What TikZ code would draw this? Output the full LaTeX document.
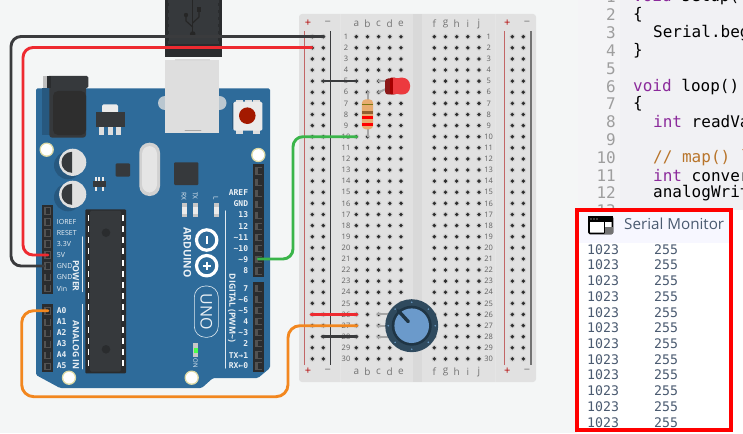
\documentclass[tikz,border=0pt]{standalone}
\usepackage{fontspec}
\setmainfont{Open Sans}
\newfontfamily\codefont{DejaVu Sans Mono}
\newfontfamily\boardfont{DejaVu Sans Mono}
\usepackage{pgf,tikz}
\usetikzlibrary{calc}
\definecolor{pagebg}{HTML}{F4F6F6}
\definecolor{boardblue}{HTML}{2E6B9A}
\definecolor{boardshade}{HTML}{27587F}
\definecolor{partdark}{HTML}{36393C}
\definecolor{socket}{HTML}{2A2C2E}
\definecolor{silver}{HTML}{DEDEDE}
\definecolor{bbgrey}{HTML}{E1E1E1}
\definecolor{wireblack}{HTML}{3A3B3D}
\definecolor{wirered}{HTML}{EE2A30}
\definecolor{wiregreen}{HTML}{3AB54A}
\definecolor{wireorange}{HTML}{F2871F}
\definecolor{codepurple}{HTML}{8B2A9B}
\definecolor{codeorange}{HTML}{B8742A}
\definecolor{monitorink}{HTML}{4A5A70}
\definecolor{gutterbg}{HTML}{F4F4F6}
\definecolor{codebg}{HTML}{F1F1F4}
\definecolor{potbody}{HTML}{2F4A5E}
\definecolor{potring}{HTML}{1F3545}
\definecolor{potknob}{HTML}{6B9ACB}
\definecolor{potdot}{HTML}{6A9AC4}
\definecolor{ledred}{HTML}{EC3A3E}
\tikzset{
  wire/.style={line width=2.9pt,rounded corners=10pt},
  lead/.style={line width=2pt,color=black!35},
  silk/.style={text=white!90!boardblue,inner sep=0pt},
  pinlabel/.style={silk,font=\boardfont\bfseries\fontsize{8}{8}\selectfont},
  powerlabel/.style={silk,font=\fontsize{7}{7}\selectfont,anchor=west},
  sidelabel/.style={silk,rotate=-90,font=\bfseries\fontsize{8.6}{8.6}\selectfont},
  bblabel/.style={text=black!62,inner sep=0pt,font=\fontsize{7.5}{7.5}\selectfont},
  bbletter/.style={text=black!55,inner sep=0pt,font=\fontsize{10}{10}\selectfont},
  codeline/.style={anchor=west,inner sep=0pt,font=\codefont\fontsize{16}{16}\selectfont},
  linenum/.style={anchor=east,inner sep=0pt,text=black!38,font=\codefont\fontsize{16}{16}\selectfont},
  monitortext/.style={anchor=west,inner sep=0pt,text=monitorink,font=\codefont\fontsize{13.2}{13.2}\selectfont},
}
\newcommand{\headerpins}[2]{%
  \foreach \py in {#2}{
    \fill[black!68] ({#1-3.6},{\py-3.6}) rectangle +(7.2,7.2);
    \fill[socket] ({#1-1.2},{\py-3}) rectangle +(4.2,5.6);
  }}
\begin{document}
\begin{tikzpicture}[line cap=round,line join=round,x=1pt,y=-1pt]
\useasboundingbox (0,0) rectangle (743,433);
\begin{scope}
\clip (0,0) rectangle (743,433);
\fill[pagebg] (0,0) rectangle (743,433);
% code panel
\fill[gutterbg] (578,0) rectangle (620,212);
\fill[codebg] (620,0) rectangle (743,212);
\foreach \n/\ly in {1/-3,2/15,3/33,4/51,5/69,6/87,7/104,8/122,9/140,10/158,11/176,12/193,13/211}
  \node[linenum] at (616,\ly) {\n};
\node[codeline] at (633,-3) {\textcolor{codepurple}{void} setup(};
\node[codeline] at (633,15) {\{};
\node[codeline] at (653,33) {Serial.beg};
\node[codeline] at (633,51) {\}};
\node[codeline] at (633,87) {\textcolor{codepurple}{void} loop()};
\node[codeline] at (633,104) {\{};
\node[codeline] at (653,122) {\textcolor{codepurple}{int} readVa};
\node[codeline,text=codeorange] at (653,158) {// map() `};
\node[codeline] at (653,176) {\textcolor{codepurple}{int} conver};
\node[codeline] at (653,193) {analogWrit};
% serial monitor
\fill[white] (577,210) rectangle (743,433);
\fill[black!3!blue!3!white] (577,210) rectangle (731,243);
\fill[white] (588,216) rectangle (613,234);
\fill[black] (588,216) rectangle (613,222);
\draw[black,line width=1.6pt,rounded corners=1pt] (589,217) rectangle (612.5,233.5);
\fill[black!55] (604,227) rectangle (612.5,233.5);
\draw[black,line width=1pt] (604,222) -- (604,233);
\foreach \wx in {591,594,597}
  \fill[white] (\wx,219) circle (0.7pt);
\node[anchor=west,inner sep=0pt,text=monitorink,font=\fontsize{15.2}{15.2}\selectfont] (monitortitle) at (624,224) {Serial Monitor};
\foreach \k in {0,...,11}{
  \pgfmathsetmacro{\ry}{249.3+\k*15.73}
  \node[monitortext] at (587,\ry) {1023};
  \node[monitortext] at (654,\ry) {255};
}
\draw[red,line width=3.6pt,line cap=butt,line join=miter] (577,210) rectangle (731,430);
% breadboard
\fill[bbgrey,rounded corners=3pt] (299,14) rectangle (536,382);
\fill[black!10] (339.6,14) rectangle (340.4,382);
\fill[black!10] (494.6,14) rectangle (495.4,382);
\fill[black!15] (413,14) rectangle (422,382);
\draw[red!60!black!60,line width=1pt,line cap=butt] (304,31) -- (304,365);
\draw[wireblack,line width=1pt,line cap=butt] (330.7,31) -- (330.7,365);
\draw[red!60!black!60,line width=1pt,line cap=butt] (504.3,31) -- (504.3,365);
\draw[black!55,line width=1.6pt,line cap=butt] (531,31) -- (531,365);
\foreach \sy in {23,371}{
  \node[text=red!70!black,inner sep=0pt,font=\fontsize{11}{11}\selectfont] at (308,\sy) {+};
  \node[text=black!55,inner sep=0pt,font=\fontsize{11}{11}\selectfont] at (327.7,\sy) {\textminus};
  \node[text=red!70!black,inner sep=0pt,font=\fontsize{11}{11}\selectfont] at (507.3,\sy) {+};
  \node[text=black!55,inner sep=0pt,font=\fontsize{11}{11}\selectfont] at (527,\sy) {\textminus};
  \foreach \hx/\ltr in {356.3/a,367.5/b,378.6/c,389.8/d,401/e,434.3/f,445.5/g,456.7/h,467.8/i,479/j}
    \node[bbletter] at (\hx,\sy+1) {\ltr};
}
\foreach \r in {1,...,30}{
  \pgfmathsetmacro{\ry}{36.7+(\r-1)*11.11}
  \node[bblabel] at (346,\ry) {\r};
  \node[bblabel] at (488.7,\ry) {\r};
  \foreach \hx in {312.3,323.3,356.3,367.5,378.6,389.8,401,434.3,445.5,456.7,467.8,479,512.3,523.3}{
    \fill[black!18] (\hx,\ry) circle (2.9pt);
    \fill[black!82] (\hx,\ry) circle (1.9pt);
  }
}
% board
\fill[boardblue,rounded corners=1.5pt] (36,88.3) -- (270,88.3) -- (270,368) -- (258,378) -- (213,378) -- (201.7,388) -- (60,388) -- (36,375) -- cycle;
\foreach \hx/\hy in {46.7/149.7,258.3/155,69/377.7,191.7/377.7}{
  \fill[yellow!30!white!85!black] (\hx,\hy) circle (7.2pt);
  \fill[white] (\hx,\hy) circle (5.8pt);
}
% power jack
\fill[boardshade] (41.7,88) rectangle (50,135);
\fill[black!25] (43,76.5) rectangle (50,88);
\fill[partdark,rounded corners=3pt] (49.3,84) rectangle (86,137.7);
\fill[black!82,rounded corners=5pt] (53,91) rectangle (86,135);
\fill[partdark,rounded corners=1.5pt] (47.3,76) rectangle (88.3,88);
\fill[socket] (47.3,76) rectangle (51,88);
% regulator
\fill[black!8,rounded corners=1.5pt] (102,104.3) rectangle (118,113);
\foreach \hx in {101.7,110.3,118.7}
  \fill[silver] ({\hx-2.5},126) rectangle +(5,9);
\fill[partdark] (95.7,111.7) rectangle (125,126.7);
% usb socket and plug
\fill[silver,opacity=0.8] (165,103) circle (7pt);
\fill[silver,opacity=0.8] (219.5,103) circle (7pt);
\fill[silver] (165,60) rectangle (219.3,132.7);
\fill[black!15] (175,59) rectangle (210,61);
\draw[black!35,line width=0.8pt] (185,130) -- (201,130);
\fill[socket] (165,0) rectangle (221.7,57.3);
\fill[partdark] (168,0) rectangle (218.7,57.3);
\foreach \ny in {3,10,...,45}{
  \fill[socket] (165,\ny) rectangle (168.5,\ny+3.5);
  \fill[socket] (218.2,\ny) rectangle (221.7,\ny+3.5);
}
\fill[socket] (165,44) rectangle (221.7,57.3);
\draw[black!85,line width=1.2pt] (192.7,0) -- (192.7,34);
\draw[black!85,line width=1.2pt] (186,15) -- (186,21) -- (192.7,27);
\draw[black!85,line width=1.2pt] (199,10) -- (199,17) -- (192.7,23);
\fill[black!85] (186,15) circle (2.2pt);
\fill[black!85] (196.8,7.5) rectangle (201.2,12);
\fill[black!85] (192.7,34) circle (2.8pt);
% reset button
\fill[silver] (236,100.5) rectangle (243,104);
\fill[silver] (244.5,100.5) rectangle (251.5,104);
\fill[silver] (253,100.5) rectangle (260,104);
\fill[silver] (236,129) rectangle (243,133.5);
\fill[silver] (253,129) rectangle (260,133.5);
\fill[boardshade] (231.5,103) rectangle (236,129);
\fill[black!8,rounded corners=1.5pt] (233.3,101.7) rectangle (262.3,130.7);
\fill[red!55!black!80!orange] (247.3,115.7) circle (8.3pt);
% capacitors
\foreach \cy in {162.3,194.3}{
  \fill[boardshade] (68,\cy+3) circle (14pt);
  \fill[black!12] (72.7,\cy) circle (13.6pt);
  \fill[partdark] (72,{\cy-10.5}) arc (90:270:10.5pt) -- cycle;
}
% small parts
\fill[partdark,rounded corners=1pt] (115.7,163.3) rectangle (130,176.7);
\fill[partdark,rounded corners=1pt] (174,162.3) rectangle (198.3,185);
\foreach \hx in {95.5,99.3,103.2}
  \fill[black!8] ({\hx-1},176.5) rectangle +(2,4.5);
\foreach \hx in {95.5,103.2}
  \fill[black!8] ({\hx-1},186.5) rectangle +(2,4.5);
\fill[partdark] (92.7,180.7) rectangle (106,186.7);
% crystal
\fill[black!18,rounded corners=10pt] (139.3,142.7) rectangle (160,196);
\fill[black!10,rounded corners=8pt] (142,146) rectangle (157,192.5);
% leds on board
\node[silk,rotate=-90,font=\fontsize{6.5}{6.5}\selectfont] at (184,196) {RX};
\node[silk,rotate=-90,font=\fontsize{6.5}{6.5}\selectfont] at (195.3,196) {TX};
\node[silk,rotate=-90,font=\fontsize{6.5}{6.5}\selectfont] at (216,198) {L};
\foreach \hx in {184.3,195.3,216.2}{
  \fill[black!22] ({\hx-2.7},203.3) rectangle +(5.4,14);
  \fill[black!8] ({\hx-2.7},206.5) rectangle +(5.4,7.5);
}
% headers
\fill[socket] (253.3,164) rectangle (264.3,276.7);
\fill[socket] (253.3,282.3) rectangle (264.3,372.3);
\fill[socket] (41.7,205) rectangle (52.7,294.3);
\fill[socket] (41.7,304.3) rectangle (52.7,372.3);
\headerpins{258.8}{171,182.1,193.2,204.3,215.4,226.5,237.6,248.7,259.8,270.9}
\headerpins{258.8}{288.3,299.4,310.5,321.6,332.7,343.8,354.9,366}
\headerpins{47.2}{211,222,233,244,255,266,277.1,288.2}
\headerpins{47.2}{311,322.1,333.2,344.3,355.4,366.5}
% silkscreen
\foreach \py/\ptxt in {193/AREF,204/GND,215/13,226.5/12,237.5/\textasciitilde 11,248.7/\textasciitilde 10,259.7/\textasciitilde 9,270.7/8,288.3/7,300/\textasciitilde 6,311/\textasciitilde 5,322/4,333/\textasciitilde 3,344/2,355.3/TX→1,366/RX←0}
  \node[pinlabel,anchor=east] at (248.3,\py) {\ptxt};
\foreach \py/\ptxt in {221.7/IOREF,233/RESET,244/3.3V,255/5V,266/GND,277.3/GND,288.7/Vin}
  \node[powerlabel] at (56.7,\py) {\ptxt};
\foreach \py/\ptxt in {311/A0,322/A1,333/A2,344/A3,355/A4,366/A5}
  \node[pinlabel,anchor=west] at (56.7,\py) {\ptxt};
\node[sidelabel] at (76,276) {POWER};
\node[sidelabel] at (76,345) {ANALOG IN};
\node[sidelabel] at (231.7,308) {DIGITAL (PWM\textasciitilde)};
\draw[white!85!boardblue,line width=0.7pt] (82.3,236.7) -- (82.3,291.7);
\draw[white!85!boardblue,line width=0.7pt] (82.3,304.3) -- (82.3,369);
\draw[white!85!boardblue,line width=0.7pt] (225,210.7) -- (225,368.3);
% atmega
\fill[socket,rounded corners=1pt] (85.3,209.3) rectangle (126,373.3);
\fill[partdark,rounded corners=1.5pt] (90,210.5) rectangle (121,371.5);
\foreach \k in {0,...,13}{
  \pgfmathsetmacro{\ry}{218+\k*11.15}
  \fill[white] (87.6,{\ry-3}) rectangle +(1.8,6);
  \fill[white] (122,{\ry-3}) rectangle +(1.8,6);
}
\fill[socket] (106,232.7) circle (4.3pt);
\fill[socket] (106,349.3) circle (4.3pt);
% logo
\node[silk,rotate=-90,font=\bfseries\fontsize{10.5}{10.5}\selectfont] at (187.3,252.7) {ARDUINO};
\draw[white,line width=3.2pt] (206.7,240) circle (10.2pt);
\draw[white,line width=3.2pt] (206.7,265.7) circle (10.2pt);
\draw[white,line width=1.8pt,line cap=butt] (206.7,236) -- (206.7,244);
\draw[white,line width=1.8pt,line cap=butt] (206.7,261.7) -- (206.7,269.7);
\draw[white,line width=1.8pt,line cap=butt] (202.7,265.7) -- (210.7,265.7);
\draw[white!85!boardblue,line width=0.6pt,rounded corners=11pt] (194.3,286) rectangle (218.3,337.3);
\node[silk,rotate=-90,font=\fontsize{16}{16}\selectfont] at (206.3,311.7) {UNO};
\fill[black!22] (192.7,342.7) rectangle (198.3,357);
\fill[green!70!white] (193.5,347.5) rectangle (197.5,352.5);
\node[silk,rotate=-90,font=\fontsize{6}{6}\selectfont] at (195.5,363.5) {ON};
% led and resistor
\draw[lead] (378.3,81) -- (388,81);
\draw[lead] (378.3,92.5) -- (388,88);
\fill[red!50!black!90!white,rounded corners=3pt] (385,78.5) rectangle (396,94.5);
\fill[red!65!black,rounded corners=1pt] (390,77.7) rectangle (396,94.5);
\fill[ledred,rounded corners=7.5pt] (393,77.7) rectangle (410,94.5);
\fill[ledred] (393,77.7) rectangle (400,94.5);
\draw[lead] (367.5,92) -- (367.5,136.7);
\fill[orange!45!brown!65!white,rounded corners=4pt] (361.8,99.3) rectangle (373.2,129.3);
\fill[olive!85!black] (362,103.6) rectangle (373,105);
\fill[brown!75!black] (362,111.3) rectangle (373,114.1);
\fill[red] (362,115.8) rectangle (373,118.8);
\fill[red] (362,122.5) rectangle (373,125.5);
% potentiometer
\draw[lead] (377.7,314.3) -- (392,314.3);
\draw[lead] (377.7,325.7) -- (392,325.7);
\draw[lead] (377.7,336.6) -- (392,336.6);
\fill[potbody] (411.7,325.7) circle (26.5pt);
\foreach \a in {0,45,...,315}
  \fill[potdot] ($(411.7,325.7)+(\a:23.5pt)$) circle (0.9pt);
\fill[potring] (411.7,325.7) circle (20pt);
\fill[potknob] (411.7,325.7) circle (17.3pt);
\draw[potring,line width=3.4pt] (408.3,321.7) -- (398.3,310.7);
% wires
\coordinate (blackrail) at (324,36.5);
\coordinate (redrail) at (312,47.5);
\coordinate (gndpin) at (44,266);
\coordinate (fivevpin) at (48,255);
\coordinate (pinnine) at (258.3,259);
\coordinate (rowten) at (356.7,136.7);
\coordinate (pinazero) at (48,310.7);
\coordinate (rowseven) at (357,325.7);
\draw[wire,wireorange,rounded corners=12pt] (pinazero) -- (21.7,310.7) -- (21.7,396.7) -- (288,396.7) -- (288,325.7) -- (rowseven);
\draw[wire,wireblack] (blackrail) -- (11,36.5) -- (11,266) -- (gndpin);
\draw[wire,wirered] (redrail) -- (23,47.5) -- (23,255) -- (fivevpin);
\draw[wire,wiregreen] (pinnine) -- (293,259) -- (293,136.7) -- (rowten);
\draw[wire,wireblack] (322.3,81) -- (357,81);
\draw[wire,wirered] (311,314.3) -- (357,314.3);
\draw[wire,wireblack] (322,336.6) -- (357,336.6);
\end{scope}
\end{tikzpicture}
\end{document}
